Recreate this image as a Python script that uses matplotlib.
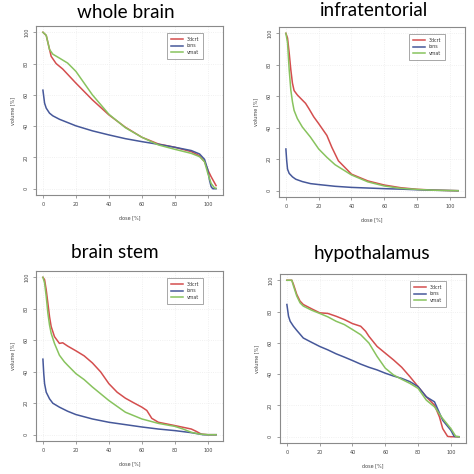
import matplotlib
matplotlib.use('Agg')
import matplotlib.pyplot as plt

# dose-volume histograms (dose %, volume %)
wb_3dcrt_x = [0, 2, 5, 8, 12, 20, 30, 40, 50, 60, 70, 80, 90, 95, 98, 100, 102, 105]
wb_3dcrt_y = [100, 98, 84.6, 80, 76.5, 67.5, 56.8, 47.2, 39.3, 32.9, 28.6, 26.5, 23.7, 21, 17.3, 12, 7.7, 2]
wb_ions_x = [0, 1, 2, 4, 6, 10, 20, 30, 40, 50, 60, 70, 80, 90, 95, 98, 100, 101, 102, 103, 105]
wb_ions_y = [63, 54.7, 51.5, 48.3, 46.6, 44.4, 40.2, 37, 34.4, 32, 30.1, 28.4, 26.5, 24.4, 22.2, 18.8, 12, 5.6, 1.3, 0, 0]
wb_vmat_x = [0, 2, 4, 6, 10, 15, 20, 25, 30, 40, 50, 60, 70, 80, 90, 95, 98, 100, 102, 104, 105]
wb_vmat_y = [100, 98, 89, 86, 83.5, 80.3, 75, 67.5, 60, 47.6, 39, 32.9, 28, 25.2, 22.6, 20.5, 17.3, 9.8, 3.4, 0.6, 0.3]

inf_3dcrt_x = [0, 1, 2, 3, 4, 5, 7, 10, 12, 14, 17, 20, 25, 28, 32, 40, 50, 60, 70, 80, 90, 100, 105]
inf_3dcrt_y = [100, 97, 87.6, 76.9, 68.3, 63.6, 60.8, 57.6, 55.5, 52.2, 46.9, 42.6, 35.1, 27.6, 19, 10.5, 6.2, 3.6, 1.9, 0.9, 0.4, 0.1, 0]
inf_ions_x = [0, 0.5, 1, 2, 4, 6, 10, 15, 20, 30, 40, 50, 60, 70, 80, 90, 100, 105]
inf_ions_y = [26.5, 19, 13.7, 11, 8.8, 7.3, 5.8, 4.5, 3.9, 2.8, 2.1, 1.7, 1.3, 1.0, 0.6, 0.3, 0.1, 0]
inf_vmat_x = [0, 1, 2, 3, 4, 5, 7, 10, 15, 20, 25, 30, 40, 50, 60, 70, 80, 90, 105]
inf_vmat_y = [100, 94, 77, 64, 56.5, 51, 45.8, 40.5, 34, 26.5, 21.2, 16.5, 10, 5.6, 3, 1.5, 0.8, 0.3, 0]

bs_3dcrt_x = [0, 1, 2, 3, 4, 5, 7, 10, 12, 15, 20, 25, 30, 35, 40, 45, 50, 55, 60, 63, 66, 70, 80, 85, 90, 93, 96, 100, 105]
bs_3dcrt_y = [100, 98.5, 92, 83.6, 75, 68.7, 62.3, 58, 58.4, 56.3, 53.3, 50.1, 45.6, 39.9, 32.4, 27, 23.2, 20.3, 17.5, 15.4, 10.4, 7.9, 5.8, 4.7, 3.6, 2.1, 0.4, 0, 0]
bs_ions_x = [0, 0.5, 1, 2, 4, 6, 10, 15, 20, 30, 40, 50, 60, 70, 80, 90, 95, 97, 105]
bs_ions_y = [48, 38.8, 32.4, 27, 22.8, 20, 17.5, 14.9, 12.8, 10, 7.9, 6.4, 4.9, 3.6, 2.6, 1.3, 0.4, 0, 0]
bs_vmat_x = [0, 1, 2, 3, 4, 5, 7, 10, 13, 15, 20, 25, 30, 35, 40, 50, 60, 70, 80, 85, 90, 95, 100, 105]
bs_vmat_y = [100, 96.4, 87.8, 77.2, 69.7, 64.4, 58, 50.5, 46.3, 44.1, 38.8, 35, 30.3, 26, 21.7, 14.3, 10, 7.2, 5.3, 3.6, 1.5, 0.4, 0, 0]

hy_3dcrt_x = [0, 3, 4, 6, 8, 10, 15, 20, 25, 30, 35, 40, 45, 48, 50, 55, 60, 65, 70, 75, 80, 85, 90, 93, 95, 98, 100, 105]
hy_3dcrt_y = [100, 100, 97.4, 91, 86.7, 84.5, 81.8, 79.2, 78.8, 77, 74.9, 72.3, 70.6, 67.4, 64.2, 57.7, 53.4, 49.1, 44.4, 38.4, 32, 25.5, 20.2, 12.7, 5.2, 0.2, 0, 0]
hy_ions_x = [0, 1, 2, 4, 6, 10, 14, 20, 25, 30, 35, 40, 45, 50, 55, 60, 65, 70, 75, 80, 85, 90, 95, 100, 102, 105]
hy_ions_y = [84.5, 77, 73.8, 70.6, 68, 63.1, 60.9, 57.7, 55.5, 53, 50.9, 48.7, 46.4, 44.4, 42.7, 40.6, 38.8, 37.3, 35.2, 32, 25.5, 22.3, 10.5, 4.1, 0.2, 0]
hy_vmat_x = [0, 3, 4, 6, 8, 10, 15, 20, 25, 30, 35, 40, 45, 50, 55, 60, 65, 70, 75, 80, 85, 90, 95, 100, 103, 105]
hy_vmat_y = [100, 100, 96.4, 90, 85.6, 83.5, 80.9, 78.8, 76.6, 73.8, 71.7, 68.5, 65.2, 59.9, 51.3, 43.8, 39.5, 36.7, 34.1, 30.9, 23.4, 19.1, 11.6, 5.2, 0.2, 0]

titles = ['whole brain', 'infratentorial', 'brain stem', 'hypothalamus']
series_names = ['3dcrt', 'ions', 'vmat']
colors = ['#d44e4e', '#46589a', '#88c35e']

panels = [
    [(wb_3dcrt_x, wb_3dcrt_y), (wb_ions_x, wb_ions_y), (wb_vmat_x, wb_vmat_y)],
    [(inf_3dcrt_x, inf_3dcrt_y), (inf_ions_x, inf_ions_y), (inf_vmat_x, inf_vmat_y)],
    [(bs_3dcrt_x, bs_3dcrt_y), (bs_ions_x, bs_ions_y), (bs_vmat_x, bs_vmat_y)],
    [(hy_3dcrt_x, hy_3dcrt_y), (hy_ions_x, hy_ions_y), (hy_vmat_x, hy_vmat_y)],
]

# axes boxes in pixels: left, top, right, bottom
boxes = [(36, 26, 223, 195), (279, 27, 465, 197), (36, 271, 223, 441), (280, 274, 466, 443)]
# title centres in pixels
title_pos = [(126, 12), (374, 11), (115, 252), (372, 253)]

W = 474
fig = plt.figure(figsize=(4.74, 4.74), dpi=100)

for k in range(4):
    l, t, r, b = boxes[k]
    ax = fig.add_axes([l / W, (W - b) / W, (r - l) / W, (b - t) / W])
    for (xs, ys), name, c in zip(panels[k], series_names, colors):
        ax.plot(xs, ys, color=c, lw=1.1, label=name)
    ax.set_xlim(-4.2, 109.2)
    ax.set_ylim(-4, 104)
    ax.set_xticks([0, 20, 40, 60, 80, 100])
    ax.set_yticks([0, 20, 40, 60, 80, 100])
    ax.grid(color='#ececec', linestyle=':', linewidth=0.6)
    ax.tick_params(length=2.5, width=0.5, color='#777777', labelsize=3.5,
                   labelcolor='#444444', pad=2.5)
    for lab in ax.get_yticklabels():
        lab.set_rotation(90)
        lab.set_va('center')
    for s in ax.spines.values():
        s.set_color('#8a8a8a')
        s.set_linewidth(0.8)
    ax.set_xlabel('dose [%]', fontsize=3.5, color='#444444', labelpad=6)
    ax.set_ylabel('volume [%]', fontsize=3.5, color='#444444', labelpad=6)
    leg = ax.legend(loc='upper right', bbox_to_anchor=(0.893, 0.959), fontsize=3.4,
                    handlelength=2.6, frameon=True, fancybox=False, borderpad=0.8,
                    labelspacing=0.35, borderaxespad=0)
    leg.get_frame().set_edgecolor('#666666')
    leg.get_frame().set_linewidth(0.5)
    for txt in leg.get_texts():
        txt.set_color('#333333')
    tx, ty = title_pos[k]
    fig.text(tx / W, 1 - ty / W, titles[k], ha='center', va='center',
             fontsize=13.6, family='Lato', color='black')

fig.savefig('out.png', dpi=100)
